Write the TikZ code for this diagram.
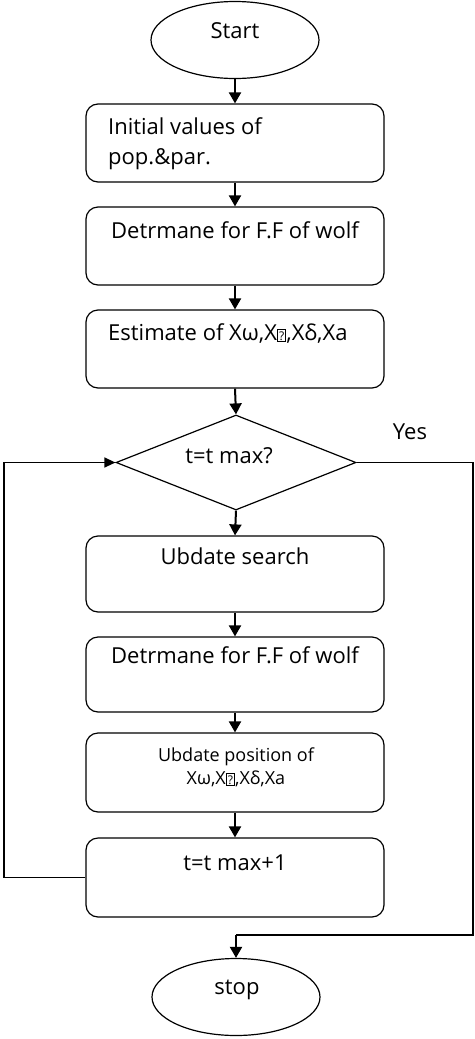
\documentclass[tikz,border=0pt]{standalone}
\usepackage{fontspec}
\setmainfont{Open Sans}
\usetikzlibrary{shapes.geometric,arrows.meta}
\newcommand{\missglyph}{{\fboxsep=1.2pt\fboxrule=0.9pt\fbox{\fontsize{12}{12}\selectfont ?}}}
\begin{document}
\begin{tikzpicture}[x=1pt,y=-1pt,
  procbox/.style={draw,line width=1.2pt,rounded corners=12pt,minimum width=298pt,inner sep=0pt},
  term/.style={draw,line width=1.2pt,ellipse,minimum width=168pt,minimum height=77pt,inner sep=0pt},
  decis/.style={draw,line width=1.2pt,diamond,minimum width=240pt,minimum height=95pt,inner sep=0pt},
  txt/.style={font=\fontsize{22}{26}\selectfont,inner sep=0pt,anchor=base},
  smalltxt/.style={font=\fontsize{18}{22}\selectfont,inner sep=0pt,anchor=base},
  flow/.style={line width=2pt,-{Triangle[width=12pt,length=11pt]}},
  loopline/.style={line width=1.3pt},
  looparrow/.style={line width=1.3pt,-{Triangle[width=10pt,length=11pt]}}]
\useasboundingbox (0,0) rectangle (474,1039);
% shapes
\node[term] (start) at (235,40) {};
\node[procbox,minimum height=78pt] (b1) at (235,143) {};
\node[procbox,minimum height=78pt] (b2) at (235,246) {};
\node[procbox,minimum height=78pt] (b3) at (235,349) {};
\node[decis] (d) at (236,462.5) {};
\node[procbox,minimum height=76pt] (b4) at (235,574) {};
\node[procbox,minimum height=75pt] (b5) at (235,674.5) {};
\node[procbox,minimum height=79pt] (b6) at (235,772.5) {};
\node[procbox,minimum height=79pt] (b7) at (235,877.5) {};
\node[term] (stop) at (236,997) {};
% texts
\node[txt] (tstart) at (235,38) {Start};
\node[txt,anchor=base west] (t1a) at (108,134) {Initial values of};
\node[txt,anchor=base west] (t1b) at (108,164) {pop.\&par.};
\node[txt] (t2) at (235,238) {Detrmane for F.F of wolf};
\node[txt,anchor=base west] (t3) at (108,340) {Estimate of Xω,X\missglyph,Xδ,Xa};
\node[txt] (td) at (229,463) {t=t max?};
\node[txt] (tyes) at (410,439) {Yes};
\node[txt] (t4) at (235,564) {Ubdate search};
\node[txt] (t5) at (235,663) {Detrmane for F.F of wolf};
\node[smalltxt] (t6a) at (236,761) {Ubdate position of};
\node[smalltxt] (t6b) at (236,784) {Xω,X\missglyph,Xδ,Xa};
\node[txt] (t7) at (235,870) {t=t max+1};
\node[txt] (tstop) at (237,994) {stop};
% connectors
\draw[flow] (start.south) -- (b1.north);
\draw[flow] (b1.south) -- (b2.north);
\draw[flow] (b2.south) -- (b3.north);
\draw[flow] (b3.south) -- (d.north);
\draw[flow] (d.south) -- (b4.north);
\draw[flow] (b4.south) -- (b5.north);
\draw[flow] (b5.south) -- (b6.north);
\draw[flow] (b6.south) -- (b7.north);
\coordinate (r1) at (473,462.5);
\coordinate (r2) at (473,935);
\coordinate (r3) at (236,935);
\draw[loopline] (d.east) -- (r1) -- (r2) -- (r3);
\draw[flow] (r3) -- (stop.north);
\coordinate (l1) at (4,877.5);
\coordinate (l2) at (4,462.5);
\draw[looparrow] (b7.west) -- (l1) -- (l2) -- (d.west);
\end{tikzpicture}
\end{document}
